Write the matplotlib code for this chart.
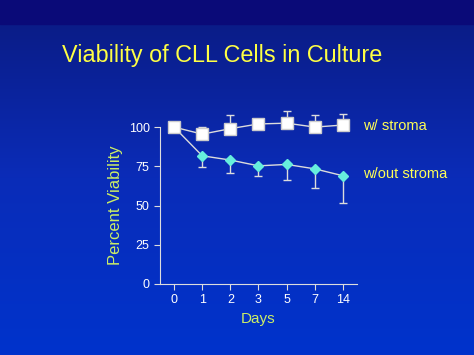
import numpy as np
import matplotlib.pyplot as plt
from matplotlib.colors import LinearSegmentedColormap

plt.rcParams['font.family'] = ['Liberation Sans', 'DejaVu Sans']

# data
days = ['0', '1', '2', '3', '5', '7', '14']
with_stroma = [100, 95.5, 99, 102, 102.5, 100, 101.3]
with_stroma_err = [0, 4.7, 8.5, 1, 7.8, 7.9, 7.2]
without_stroma = [100, 81.7, 79, 75.3, 76.2, 73.4, 69]
without_stroma_err = [0, 7, 8, 6.2, 10.2, 12.5, 17.6]

fig = plt.figure(figsize=(4.74, 3.55), dpi=100)

# slide background: dark band on top then blue gradient
bg = fig.add_axes([0, 0, 1, 1])
grad = np.linspace(0, 1, 256).reshape(-1, 1)
cmap = LinearSegmentedColormap.from_list('slide', ['#0b1a80', '#0a2cb8', '#0033cc'])
bg.imshow(grad, aspect='auto', cmap=cmap, extent=[0, 1, 0, 1], origin='upper')
bg.axhspan(1 - 24 / 355, 1, color='#0a0a78')
bg.set_xlim(0, 1)
bg.set_ylim(0, 1)
bg.axis('off')

fig.text(0.13, 0.845, 'Viability of CLL Cells in Culture', color='#ffff44',
         fontsize=16.8, va='center', ha='left')

ax = fig.add_axes([0.3376, 0.2, 0.4154, 0.442])
ax.patch.set_alpha(0)
x = np.arange(len(days))

line_c = '#dcdcdc'
ax.errorbar(x, without_stroma, yerr=[without_stroma_err, np.zeros(len(x))], color=line_c,
            lw=1, capsize=3, elinewidth=1, marker='D', ms=5.5, mfc='#66eedd',
            mec='#66eedd', clip_on=False, zorder=3)
ax.errorbar(x, with_stroma, yerr=[np.zeros(len(x)), with_stroma_err], color=line_c,
            lw=1, capsize=3, elinewidth=1, marker='s', ms=9, mfc='white',
            mec='#cccccc', clip_on=False, zorder=4)

ax.set_xlim(-0.5, 6.5)
ax.set_ylim(0, 100)
ax.set_xticks(x)
ax.set_xticklabels(days)
ax.set_yticks([0, 25, 50, 75, 100])
for s in ['top', 'right']:
    ax.spines[s].set_visible(False)
for s in ['left', 'bottom']:
    ax.spines[s].set_color('#dddddd')
ax.tick_params(colors='#dddddd', labelcolor='white', labelsize=9, length=4)

ax.set_xlabel('Days', color='#ccee66', fontsize=11)
ax.set_ylabel('Percent Viability', color='#ccee66', fontsize=12, labelpad=4)

fig.text(0.766, 0.645, 'w/ stroma', color='#ffff55', fontsize=10.5, va='center')
fig.text(0.766, 0.51, 'w/out stroma', color='#ffff55', fontsize=10.5, va='center')

fig.savefig('out.png', dpi=100)
